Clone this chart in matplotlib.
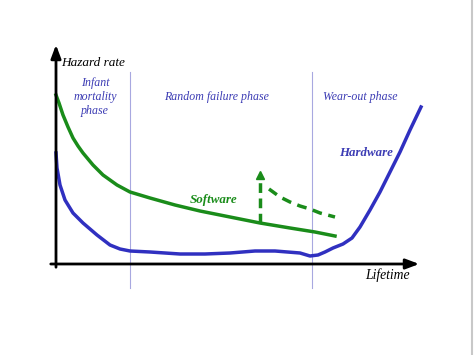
import numpy as np
import matplotlib
matplotlib.use("Agg")
import matplotlib.pyplot as plt

# values (lifetime, hazard), origin at the axes crossing
sw_t = [0, 3, 7, 12, 17, 22, 27, 37, 47, 61, 74, 94, 119, 144, 174, 204, 234, 259, 279]
sw_h = [169, 161, 149, 137, 126, 118, 111, 99, 89, 79, 72, 66, 59, 53, 47, 41, 36, 32, 28]

sw_new_t = [213, 224, 234, 244, 254, 264, 279]
sw_new_h = [75, 67, 62, 58, 55, 51, 47]
upgrade_t = 204
upgrade_h = [41, 92]

hw_t = [0, 1, 4, 9, 17, 27, 41, 54, 64, 74, 94, 124, 149, 174, 199, 219, 244,
        254, 262, 269, 277, 287, 296, 304, 314, 324, 334, 344, 354, 365]
hw_h = [111, 96, 79, 64, 51, 41, 29, 19, 15, 13, 12, 10, 10, 11, 13, 13, 11,
        8, 9, 12, 16, 20, 26, 37, 54, 72, 92, 112, 134, 157]

phase_edges = [74, 256]

green = "#1a8c1a"
blue = "#3030c0"
txt_blue = "#3c3cb4"

fig = plt.figure(figsize=(4.74, 3.55), dpi=100)
ax = fig.add_axes([0, 0, 1, 1])
ax.set_xlim(-56, 418)
ax.set_ylim(-91, 264)
ax.axis("off")

# axes with arrows
ax.annotate("", xy=(0, 222), xytext=(0, -6),
            arrowprops=dict(arrowstyle="-|>,head_length=0.8,head_width=0.3", lw=2, color="black"))
ax.annotate("", xy=(366, 0), xytext=(-8, 0),
            arrowprops=dict(arrowstyle="-|>,head_length=0.8,head_width=0.3", lw=2, color="black"))

for e in phase_edges:
    ax.plot([e, e], [-24, 192], color="#a8a8e0", lw=0.8)

ax.plot(sw_t, sw_h, color=green, lw=2.5, solid_joinstyle="round")
ax.plot(sw_new_t, sw_new_h, color=green, lw=2.5, ls=(0, (2.8, 1.9)))
ax.plot([upgrade_t, upgrade_t], [upgrade_h[0], upgrade_h[1] - 6], color=green, lw=2.5, ls=(0, (2.8, 1.6)))
ax.plot([upgrade_t], [upgrade_h[1] - 3], marker="^", ms=6, color=green, mec=green)
ax.plot(hw_t, hw_h, color=blue, lw=2.5, solid_joinstyle="round")

serif = dict(family="Liberation Serif", style="italic")
ax.text(5, 201, "Hazard rate", fontsize=9.5, color="black", va="center", ha="left", **serif)
ax.text(39, 167, "Infant\nmortality\nphase", fontsize=8.6, color=txt_blue, ha="center", va="center",
        linespacing=1.25, **serif)
ax.text(160.5, 167, "Random failure phase", fontsize=8.6, color=txt_blue, ha="center", va="center", **serif)
ax.text(304.5, 167, "Wear-out phase", fontsize=8.6, color=txt_blue, ha="center", va="center", **serif)
ax.text(310.5, 111, "Hardware", fontsize=9.3, color=txt_blue, ha="center", va="center",
        weight="bold", **serif)
ax.text(157.5, 64, "Software", fontsize=9.4, color=green, ha="center", va="center",
        weight="bold", **serif)
ax.text(354, -11, "Lifetime", fontsize=9.8, color="black", ha="right", va="center", **serif)

ax.plot([416, 416], [-91, 264], color="#c8c8c8", lw=1.5)

fig.savefig("out.png", dpi=100)
